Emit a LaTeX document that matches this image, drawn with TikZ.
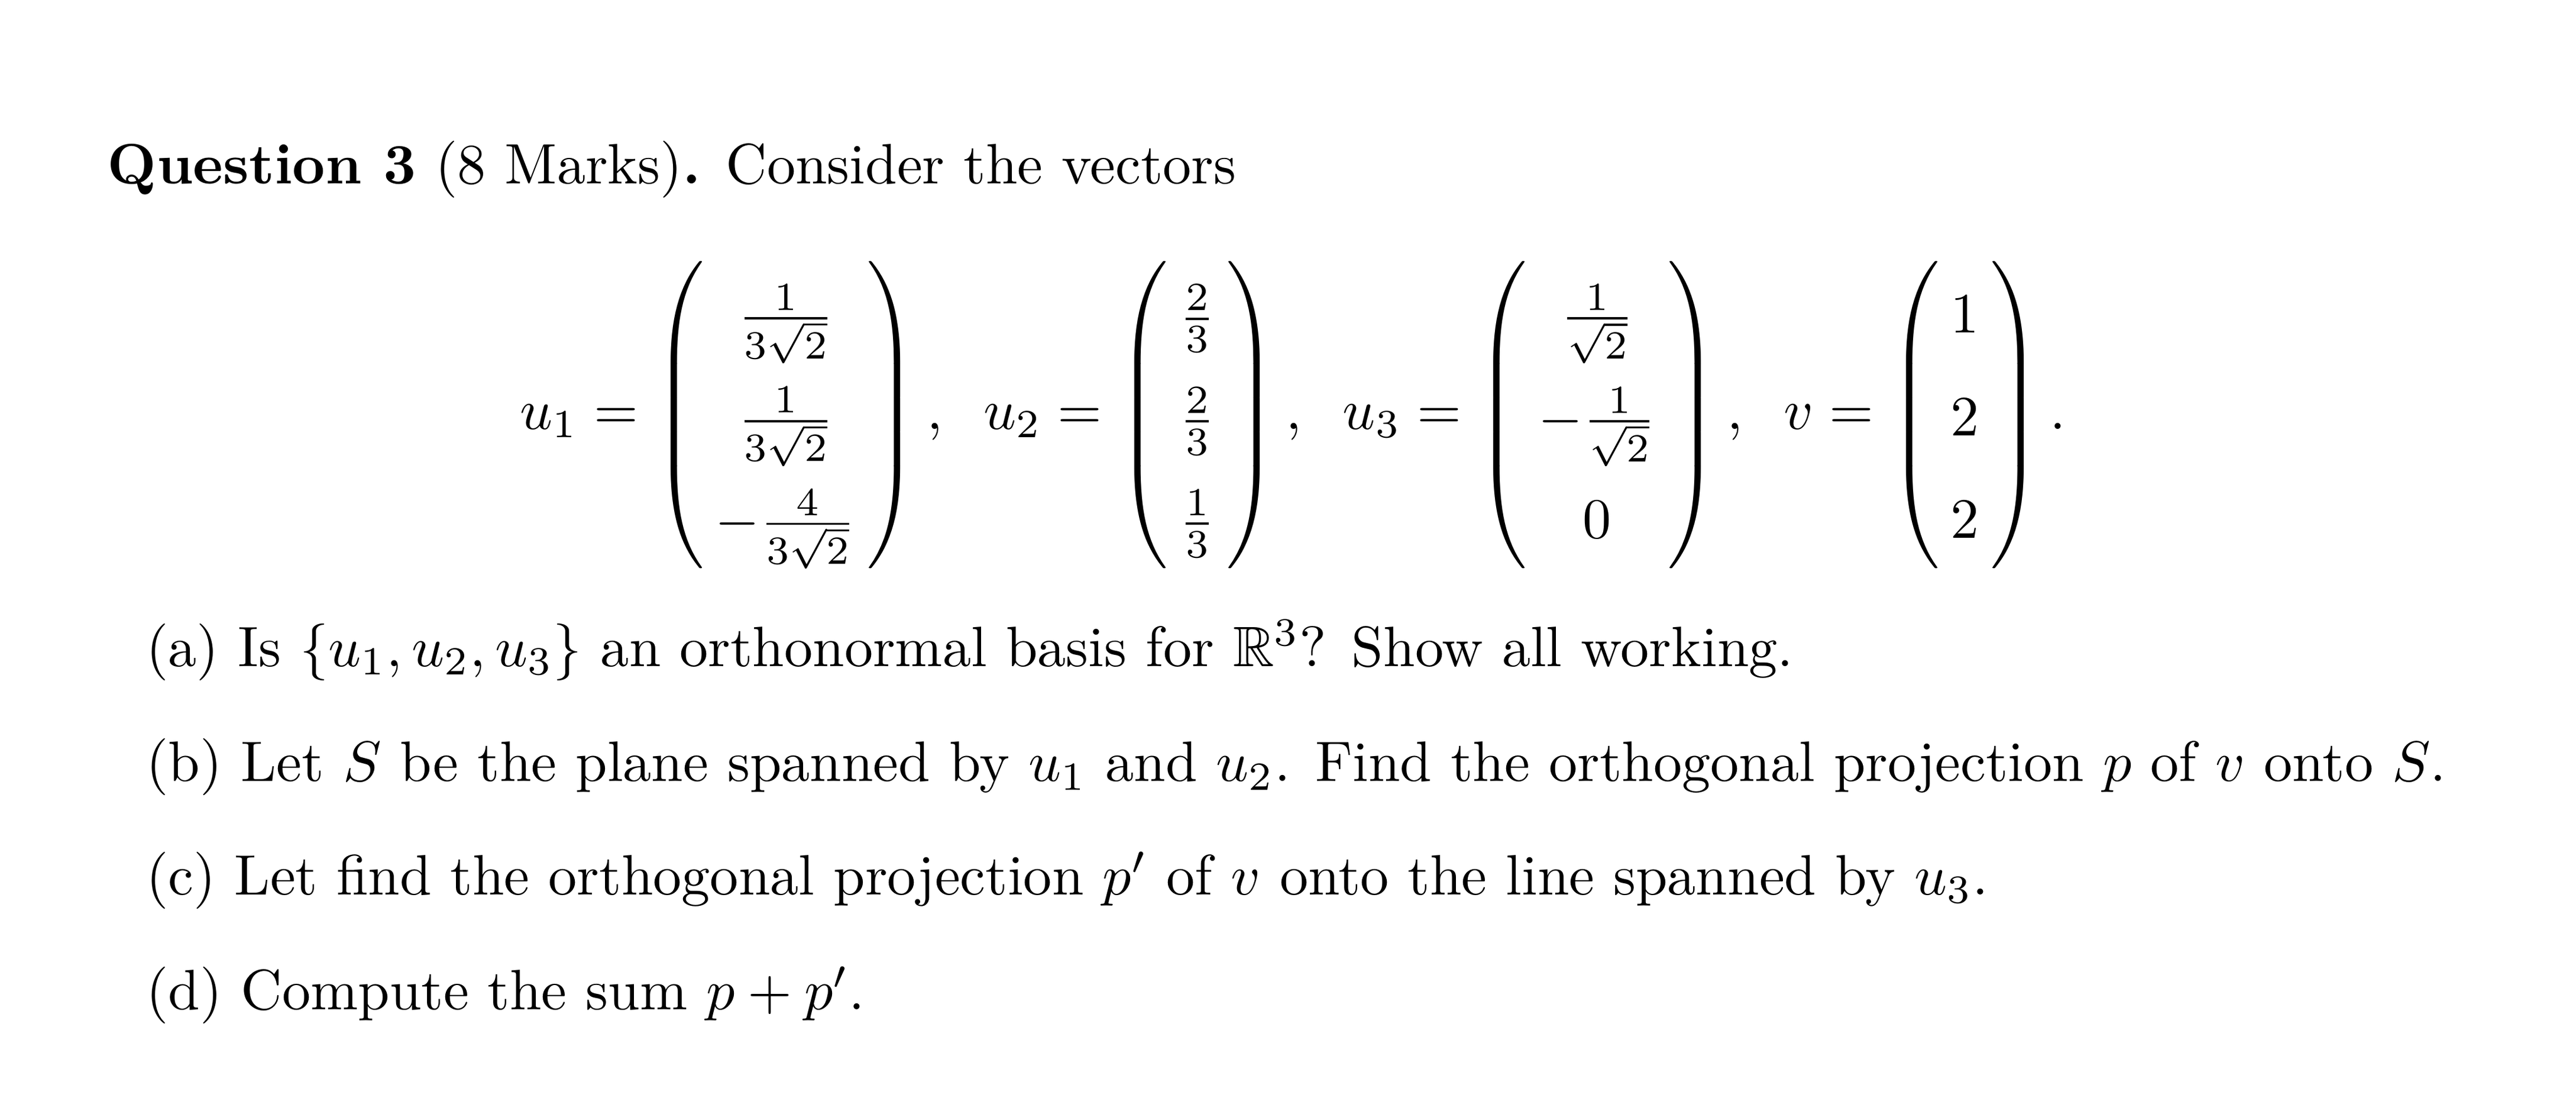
\documentclass[tikz,border=0pt]{standalone}
\usepackage{amsmath,amssymb}
\begin{document}
\begin{tikzpicture}[x=1cm,y=-1cm,txt/.style={anchor=base west,inner sep=0pt}]
\useasboundingbox (0,0) rectangle (15.9,6.873);
\node[txt] (q) at (0.657,1.133) {\textbf{Question 3} (8 Marks)\textbf{.} Consider the vectors};
\node[inner sep=0pt] (m) at (7.98,2.56) {$\renewcommand{\arraystretch}{1.5}\setlength{\arraycolsep}{2pt}
u_1=\left(\begin{array}{c}\frac{1}{3\sqrt2}\\ \frac{1}{3\sqrt2}\\ -\frac{4}{3\sqrt2}\end{array}\right),\;\;
u_2=\left(\begin{array}{c}\frac{2}{3}\\ \frac{2}{3}\\ \frac{1}{3}\end{array}\right),\;\;
u_3=\left(\begin{array}{c}\frac{1}{\sqrt2}\\ -\frac{1}{\sqrt2}\\ 0\end{array}\right),\;\;
v=\left(\begin{array}{c}1\\ 2\\ 2\end{array}\right).$};
\node[txt] (a) at (0.895,4.11) {(a)\ Is $\{u_1,u_2,u_3\}$ an orthonormal basis for $\mathbb{R}^3$? Show all working.};
\node[txt] (b) at (0.895,4.82) {(b)\ Let $S$ be the plane spanned by $u_1$ and $u_2$. Find the orthogonal projection $p$ of $v$ onto $S$.};
\node[txt] (c) at (0.895,5.52) {(c)\ Let find the orthogonal projection $p'$ of $v$ onto the line spanned by $u_3$.};
\node[txt] (d) at (0.895,6.23) {(d)\ Compute the sum $p+p'$.};
\end{tikzpicture}
\end{document}
